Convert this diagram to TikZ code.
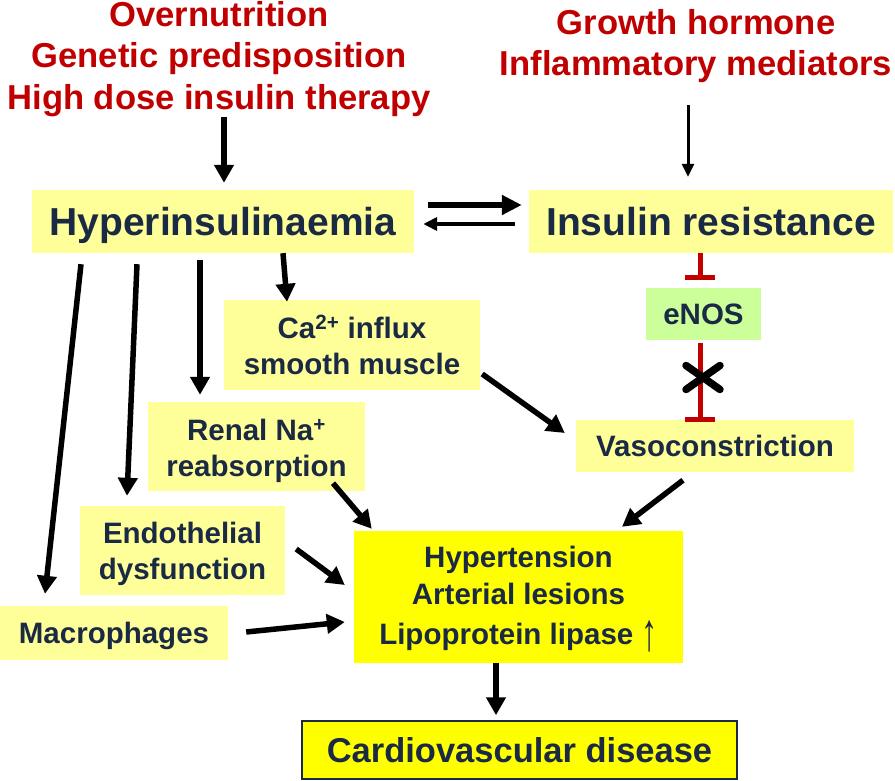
\documentclass[tikz,border=0pt]{standalone}
\usepackage{fontspec}
\usepackage{graphicx}
\setmainfont{Liberation Sans}
\usetikzlibrary{arrows.meta,calc}
\definecolor{navy}{HTML}{1A2A44}
\definecolor{darkred}{HTML}{C00000}
\definecolor{paleyellow}{HTML}{FFFF99}
\definecolor{paleGreen}{HTML}{CCFF99}
\definecolor{brightyellow}{HTML}{FFFF00}
\newcommand{\bigstrut}{\rule[-12pt]{0pt}{51.9pt}}
\newcommand{\midstrut}{\rule[-9pt]{0pt}{39.1pt}}
\newcommand{\cvdstrut}{\rule[-10pt]{0pt}{44.7pt}}
\begin{document}
\begin{tikzpicture}[x=1pt,y=-1pt,
  box/.style={fill=paleyellow, text=navy, align=center, inner sep=0pt,
    font=\fontsize{29.5}{36}\selectfont\bfseries},
  bigbox/.style={box, font=\fontsize{39}{44}\selectfont\bfseries},
  title/.style={text=darkred, align=center, inner sep=0pt, anchor=north,
    font=\fontsize{34.6}{41.5}\selectfont\bfseries},
  arr/.style={line width=5.5pt, -{Triangle[length=18pt,width=19pt]}},
  thinarr/.style={line width=3pt, -{Triangle[length=13pt,width=12pt]}},
  inhib/.style={draw=darkred, line width=5pt, -{Bar[width=30pt]}}
]
\useasboundingbox (0,0) rectangle (895,781);

% titles
\node[title] (lt) at (219,1) {Overnutrition\\Genetic predisposition\\High dose insulin therapy};
\node[title] (rt) at (696,9) {Growth hormone\\Inflammatory mediators};

% boxes
\node[bigbox, minimum width=382pt, minimum height=63pt] (hyper) at (223,221.5) {\bigstrut Hyperinsulinaemia};
\node[bigbox, minimum width=364pt, minimum height=63pt] (insres) at (711,221.5) {\bigstrut Insulin resistance};
\node[box, minimum width=256pt, minimum height=90pt] (ca) at (352,345) {Ca\textsuperscript{2+} influx\\smooth muscle};
\node[box, minimum width=217pt, minimum height=89pt] (renal) at (256.5,446.5) {\rule{0pt}{31pt}Renal Na\textsuperscript{+}\\reabsorption};
\node[box, minimum width=205pt, minimum height=89pt] (endo) at (182.5,550.5) {\rule{0pt}{28pt}Endothelial\\dysfunction};
\node[box, minimum width=228pt, minimum height=54pt] (macro) at (114,633) {\midstrut Macrophages};
\node[box, fill=brightyellow, minimum width=329pt, minimum height=132pt] (main) at (518.5,597) {\rule{0pt}{26.5pt}Hypertension\\[1pt]Arterial lesions\\[4pt]Lipoprotein lipase {\mdseries\raisebox{-6pt}{\scalebox{1.1}[1.8]{↑}}}};
\node[box, fill=brightyellow, draw=navy, line width=1.5pt, minimum width=435pt, minimum height=58pt,
  font=\fontsize{34.5}{40}\selectfont\bfseries] (cvd) at (519.5,750) {\cvdstrut Cardiovascular disease};
\node[box, fill=paleGreen, minimum width=115pt, minimum height=52pt] (enos) at (703.5,314) {\midstrut eNOS};
\node[box, minimum width=278pt, minimum height=52pt] (vaso) at (715,446) {\midstrut Vasoconstriction};

% arrows from titles
\draw[arr] ([xshift=5pt]lt.south) -- ([xshift=1pt,yshift=7pt]hyper.north);
\draw[thinarr] ([xshift=-8pt,yshift=-22pt]rt.south) -- ([xshift=-23pt,yshift=13pt]insres.north);

% double arrows
\draw[line width=6.5pt, -{Triangle[length=20pt,width=19pt]}] ([xshift=14pt,yshift=16.5pt]hyper.east) -- ([xshift=-7pt,yshift=16.5pt]insres.west);
\draw[line width=4pt, -{Triangle[length=14pt,width=13pt]}] ([xshift=-14pt,yshift=-2.5pt]insres.west) -- ([xshift=9pt,yshift=-2.5pt]hyper.east);

% from hyperinsulinaemia
\draw[arr] ([xshift=60pt]hyper.south) -- ([xshift=-65pt,yshift=-2pt]ca.north);
\draw[arr] ([xshift=-23pt,yshift=-7pt]hyper.south) -- ([xshift=-56.5pt,yshift=7pt]renal.north);
\draw[arr] ([xshift=-86pt,yshift=-11pt]hyper.south) -- ([xshift=-55.5pt,yshift=10pt]endo.north);
\draw[arr] ([xshift=-142pt,yshift=-11pt]hyper.south) -- ([xshift=-69pt,yshift=12pt]macro.north);

% to vasoconstriction & main
\draw[arr] ([xshift=2pt,yshift=-29pt]ca.east) -- ([xshift=-11pt,yshift=13pt]vaso.west);
\draw[arr] ([xshift=76.5pt,yshift=8pt]renal.south) -- ([xshift=18pt,yshift=2pt]main.north west);
\draw[arr] ([xshift=11pt,yshift=1.5pt]endo.east) -- ([xshift=-9pt,yshift=12pt]main.west);
\draw[arr] ([xshift=18pt,yshift=1pt]macro.east) -- ([xshift=-9pt,yshift=-25pt]main.west);
\draw[arr] ([xshift=-32pt,yshift=-8pt]vaso.south) -- ([xshift=103.5pt,yshift=4pt]main.north);
\draw[arr] ([xshift=-22.5pt]main.south) -- ([xshift=-23.5pt,yshift=5pt]cvd.north);

% inhibition
\draw[inhib] ([xshift=-11pt]insres.south) -- ([xshift=-3.5pt,yshift=8pt]enos.north);
\draw[inhib] ([xshift=-3.5pt,yshift=-3pt]enos.south) -- ([xshift=-15pt,yshift=-2pt]vaso.north);
\coordinate (xc) at (703,377.5);
\draw[line width=7.5pt, line cap=round] ([xshift=-17pt,yshift=12pt]xc) -- ([xshift=17pt,yshift=-12pt]xc);
\draw[line width=7.5pt, line cap=round] ([xshift=-17pt,yshift=-12pt]xc) -- ([xshift=17pt,yshift=12pt]xc);
\end{tikzpicture}
\end{document}
